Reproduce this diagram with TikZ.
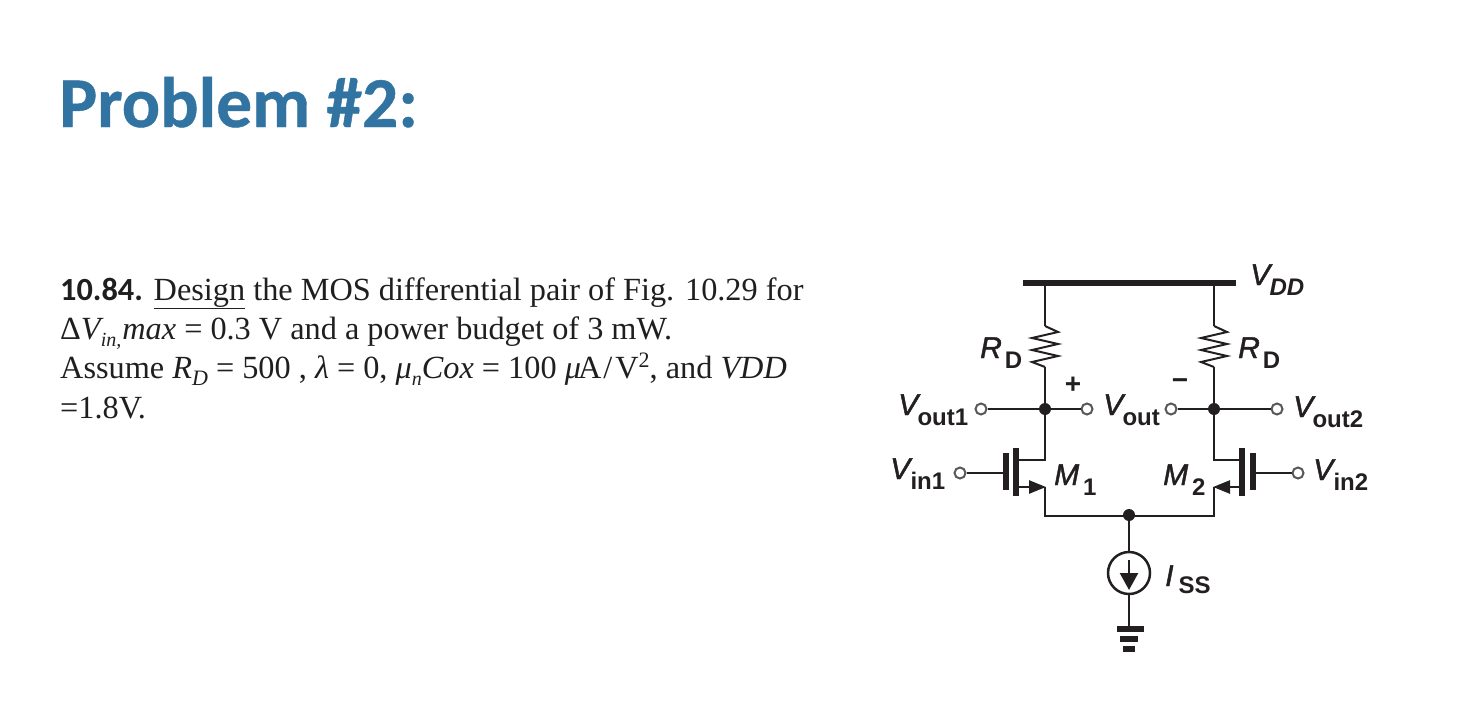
\documentclass[tikz,border=0pt]{standalone}
\usepackage{fontspec}
\setmainfont{Liberation Serif}
\newfontfamily\titlefont[FakeBold=0.6]{Carlito}
\newfontfamily\numfont{Carlito}
\newfontfamily\labfont[FakeBold=1.5]{Liberation Sans}
\newfontfamily\subfont{Liberation Sans}
\usetikzlibrary{arrows.meta}
\definecolor{titleblue}{HTML}{3274A1}
\definecolor{ink}{HTML}{231F20}
\definecolor{bodyink}{HTML}{1F1F1F}
\newcommand{\px}[1]{\fontsize{#1}{#1}\selectfont}
% circuit label: italic main letter + lowered subscript
\newcommand{\clab}[3]{{\labfont\px{30}\textit{#1}\kern#3pt\raisebox{-10pt}{\subfont\bfseries\px{24}#2}}}
\tikzset{
  x=1pt,y=-1pt,
  wire/.style={draw=ink,line width=2.5pt},
  zig/.style={draw=ink,line width=2pt,line join=miter},
  thickbar/.style={draw=ink,line width=6pt},
  plate/.style={draw=ink,line width=6.5pt,line cap=butt},
  srcarrow/.style={wire,-{Triangle[length=17pt,width=13pt]}},
  dot/.style={circle,fill=ink,inner sep=0pt,minimum size=12pt},
  term/.style={circle,draw=ink!75,fill=white,line width=2pt,inner sep=0pt,minimum size=11pt},
  lab/.style={anchor=base west,inner sep=0pt,text=ink},
  body/.style={anchor=base west,inner sep=0pt,text=bodyink},
  csrc/.style={circle,draw=ink,fill=white,line width=2.5pt,inner sep=0pt,minimum size=42pt},
}
\begin{document}
\begin{tikzpicture}
\useasboundingbox (0,0) rectangle (1458,712);
% title and problem text
\node[anchor=base west,inner sep=0pt,text=titleblue] (title) at (59,127) {\titlefont\bfseries\px{71.5}Problem \#2:};
\node[body] (line1) at (60,300) {\px{32.3}{\numfont\bfseries 10.84.} \underline{Design} the MOS differential pair of Fig. 10.29 for};
\node[body] (line2) at (60,339) {\px{32.3}Δ\textit{V}\kern-3pt\raisebox{-7pt}{\px{20}\textit{in,}}\kern1pt\textit{max} = 0.3 V and a power budget of 3 mW.};
\node[body] (line3) at (60,378) {\px{32.3}Assume \textit{R}\raisebox{-7pt}{\px{22}\textit{D}} = 500 , \textit{λ} = 0, \textit{μ}\raisebox{-7pt}{\px{20}\textit{n}}\textit{Cox} = 100 \textit{μ}\kern-3ptA\kern2pt/\kern3ptV\raisebox{11pt}{\px{22}2}, and \textit{VDD}};
\node[body] (line4) at (60,418) {\px{32.3}=1.8V.};
% coordinates of the circuit
\coordinate (barL) at (1023,283);
\coordinate (barR) at (1236,283);
\coordinate (vl) at (1045,283);
\coordinate (vr) at (1214,283);
\coordinate (r1t) at (1045,326);
\coordinate (r2t) at (1214,326);
\coordinate (d1) at (1045,460);
\coordinate (d2) at (1214,460);
\coordinate (dc1) at (1016,460);
\coordinate (dc2) at (1242,460);
\coordinate (s1) at (1046,487);
\coordinate (s2) at (1213,487);
\coordinate (sc1) at (1016,487);
\coordinate (sc2) at (1242,487);
\coordinate (t1) at (1045,516);
\coordinate (t2) at (1214,516);
\coordinate (g1) at (1006,473);
\coordinate (g2) at (1253,473);
\coordinate (gnd) at (1129,629);
\node[dot] (n1) at (1045,409) {};
\node[dot] (n2) at (1214,409) {};
\node[dot,minimum size=12pt] (tail) at (1129,515) {};
\node[term] (tv1) at (981,409) {};
\node[term] (tvp) at (1087,409) {};
\node[term] (tvm) at (1171,409) {};
\node[term] (tv2) at (1277,409) {};
\node[term] (tg1) at (960,473) {};
\node[term] (tg2) at (1298,473) {};
\node[csrc] (iss) at (1129,573) {};
% supply bar
\draw[thickbar] (barL) -- (barR);
% rails and resistors
\draw[wire] (vl) -- (r1t);
\draw[wire] (vr) -- (r2t);
\draw[zig] (r1t) -- ++(13,6) -- ++(-26,6) -- ++(26,6) -- ++(-26,6) -- ++(26,6) -- ++(-26,6) -- ++(13,5) coordinate (r1b);
\draw[zig] (r2t) -- ++(13,6) -- ++(-26,6) -- ++(26,6) -- ++(-26,6) -- ++(26,6) -- ++(-26,6) -- ++(13,5) coordinate (r2b);
\draw[wire] (r1b) -- (n1);
\draw[wire] (r2b) -- (n2);
% output wires
\draw[wire] (tv1) -- (n1);
\draw[wire] (n1) -- (tvp);
\draw[wire] (tvm) -- (n2);
\draw[wire] (n2) -- (tv2);
% drains and sources
\draw[wire,line join=miter] (n1) -- (d1) -- (dc1);
\draw[wire,line join=miter] (n2) -- (d2) -- (dc2);
\draw[wire,line join=miter] (1045,487) -- (t1) -- (t2) -- (1214,487);
\draw[srcarrow] (sc1) -- (s1);
\draw[srcarrow] (sc2) -- (s2);
% MOS plates
\draw[plate] (1016,448) -- (1016,496);
\draw[plate] (1006,453) -- (1006,490);
\draw[plate] (1242,448) -- (1242,496);
\draw[plate] (1253,453) -- (1253,490);
% gate wires
\draw[wire] (tg1) -- (g1);
\draw[wire] (tg2) -- (g2);
% tail and current source
\draw[wire] (tail) -- (iss);
\draw[wire,-{Triangle[length=17pt,width=18pt]}] (1129,560) -- (1129,590);
\draw[wire] (iss) -- (gnd);
% ground
\draw[thickbar] (1117,629) -- (1144,629);
\draw[thickbar] (1120,639) -- (1138,639);
\draw[thickbar] (1123,649) -- (1135,649);
% labels
\node[lab] (lvdd) at (1250,285) {\labfont\px{30}\textit{V}\kern-3pt\raisebox{-10pt}{\subfont\bfseries\itshape\px{24}DD}};
\node[lab] (lrd1) at (980,358) {\clab{R}{D}{3}};
\node[lab] (lrd2) at (1238,358) {\clab{R}{D}{3}};
\node[lab] (lvo1) at (898,415) {\clab{V}{out1}{-3}};
\node[lab] (lvo) at (1103,415) {\clab{V}{out}{-3}};
\node[lab] (lvo2) at (1293,417) {\clab{V}{out2}{-3}};
\node[lab] (lvi1) at (890,479) {\clab{V}{in1}{-2}};
\node[lab] (lvi2) at (1313,480) {\clab{V}{in2}{-2}};
\node[lab] (lm1) at (1054,485) {\clab{M}{1}{4}};
\node[lab] (lm2) at (1163,485) {\clab{M}{2}{4}};
\node[lab] (liss) at (1165,586) {\labfont\px{30}\textit{I}\kern5pt\raisebox{-7pt}{\subfont\bfseries\px{24}SS}};
\node[inner sep=0pt,text=ink] (plus) at (1073,385) {\subfont\bfseries\px{28}+};
\node[inner sep=0pt,text=ink] (minus) at (1180,384) {\subfont\bfseries\px{28}−};
\end{tikzpicture}
\end{document}
